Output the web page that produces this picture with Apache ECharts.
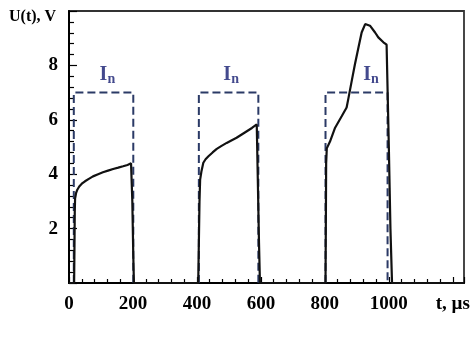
<!DOCTYPE html>
<html>
<head>
<meta charset="utf-8">
<script src="https://cdn.jsdelivr.net/npm/echarts@6/dist/echarts.min.js"></script>
<style>html,body{margin:0;padding:0;background:#fff}#c{width:474px;height:337px}</style>
</head>
<body>
<div id="c"></div>
<script>
// Signal U(t): time (µs) and voltage (V)
const tVals = [0,16,17,18,19,22,26,32,40,50,62,75,91,106,122,138,154,169,183,194,198,201,203,
  404,406,408,410,414,420,427,436,449,462,477,493,509,524,540,556,572,587,590,594,597,
  802,803,804,806,816,832,853,868,873,884,894,905,915,926,931,941,957,967,983,993,997,1000,1005,1010,1235];
const uVals = [0,0,1.2,2.6,3.1,3.3,3.43,3.55,3.65,3.74,3.83,3.92,4.0,4.07,4.13,4.19,4.24,4.29,4.34,4.4,3.0,1.0,0,
  0,1.5,3.0,3.8,4.1,4.42,4.55,4.66,4.8,4.93,5.04,5.15,5.25,5.34,5.46,5.58,5.7,5.83,4.0,1.5,0,
  0,2.0,4.4,4.95,5.2,5.71,6.14,6.45,6.75,7.43,8.04,8.66,9.21,9.52,9.58,9.46,9.21,9.03,8.85,8.76,8.7,5.0,2.0,0,0];
// Dashed current pulses I_n
const pulseStart = [15, 406, 802];
const pulseEnd = [201, 592, 996];
const pulseLevel = 7;
// I_n label anchors
const labelT = [120, 507, 944];
const labelU = [7.64, 7.64, 7.64];
// Tick labels
const xTickLabels = {0:'0',200:'200',400:'400',600:'600',800:'800',1000:'1000',1200:'t, µs'};
const yTickLabels = {2:'2',4:'4',6:'6',8:'8'};
const yMax = 10;

const signal = tVals.map((t,i)=>[t,uVals[i]]);
const pulseSeries = pulseStart.map((s,i)=>({
  type:'line', symbol:'none', silent:true,
  data:[[s,0],[s,pulseLevel],[pulseEnd[i],pulseLevel],[pulseEnd[i],0]],
  lineStyle:{color:'#2b3a66', width:2, type:[8,4]}, z:2
}));
const font = '"Liberation Serif","Times New Roman",serif';
const chart = echarts.init(document.getElementById('c'));
chart.setOption({
  animation:false,
  title:{text:'U(t), V', left:4, top:4, textStyle:{fontFamily:font, fontWeight:'bold', fontSize:16, color:'#000'}},
  grid:{left:69, top:11, right:10, bottom:54, show:true, borderColor:'#333', borderWidth:1.8},
  xAxis:{type:'value', min:0, max:1235, interval:200,
    axisLine:{onZero:false, lineStyle:{color:'#000', width:2}},
    axisTick:{inside:true, length:6, lineStyle:{color:'#000', width:1.2}},
    minorTick:{show:true, splitNumber:5, length:4, lineStyle:{color:'#000', width:1.2}},
    splitLine:{show:false},
    axisLabel:{margin:12, fontFamily:font, fontWeight:'bold', fontSize:19, color:'#000',
      formatter:v=>xTickLabels[v]!==undefined?xTickLabels[v]:''}},
  yAxis:{type:'value', min:0, max:yMax, interval:2,
    axisLine:{onZero:false, lineStyle:{color:'#000', width:2}},
    axisTick:{inside:true, length:8, lineStyle:{color:'#000', width:1.2}},
    minorTick:{show:true, splitNumber:5, length:5, lineStyle:{color:'#000', width:1.2}},
    splitLine:{show:false},
    axisLabel:{margin:11, fontFamily:font, fontWeight:'bold', fontSize:19, color:'#000',
      formatter:v=>yTickLabels[v]!==undefined?yTickLabels[v]:''}},
  series:[
    ...pulseSeries,
    {type:'line', symbol:'none', data:signal, lineStyle:{color:'#111', width:2.2}, z:3},
    {type:'scatter', symbolSize:1, itemStyle:{color:'transparent'},
      data:labelT.map((t,i)=>[t,labelU[i]]),
      label:{show:true, position:'inside', formatter:'{a|I}{b|n}',
        rich:{a:{fontFamily:font, fontWeight:'bold', fontSize:20, color:'#141c70'},
              b:{fontFamily:font, fontWeight:'bold', fontSize:14, color:'#141c70', verticalAlign:'bottom', padding:[8,0,0,0]}}}}
  ]
});
</script>
</body>
</html>
